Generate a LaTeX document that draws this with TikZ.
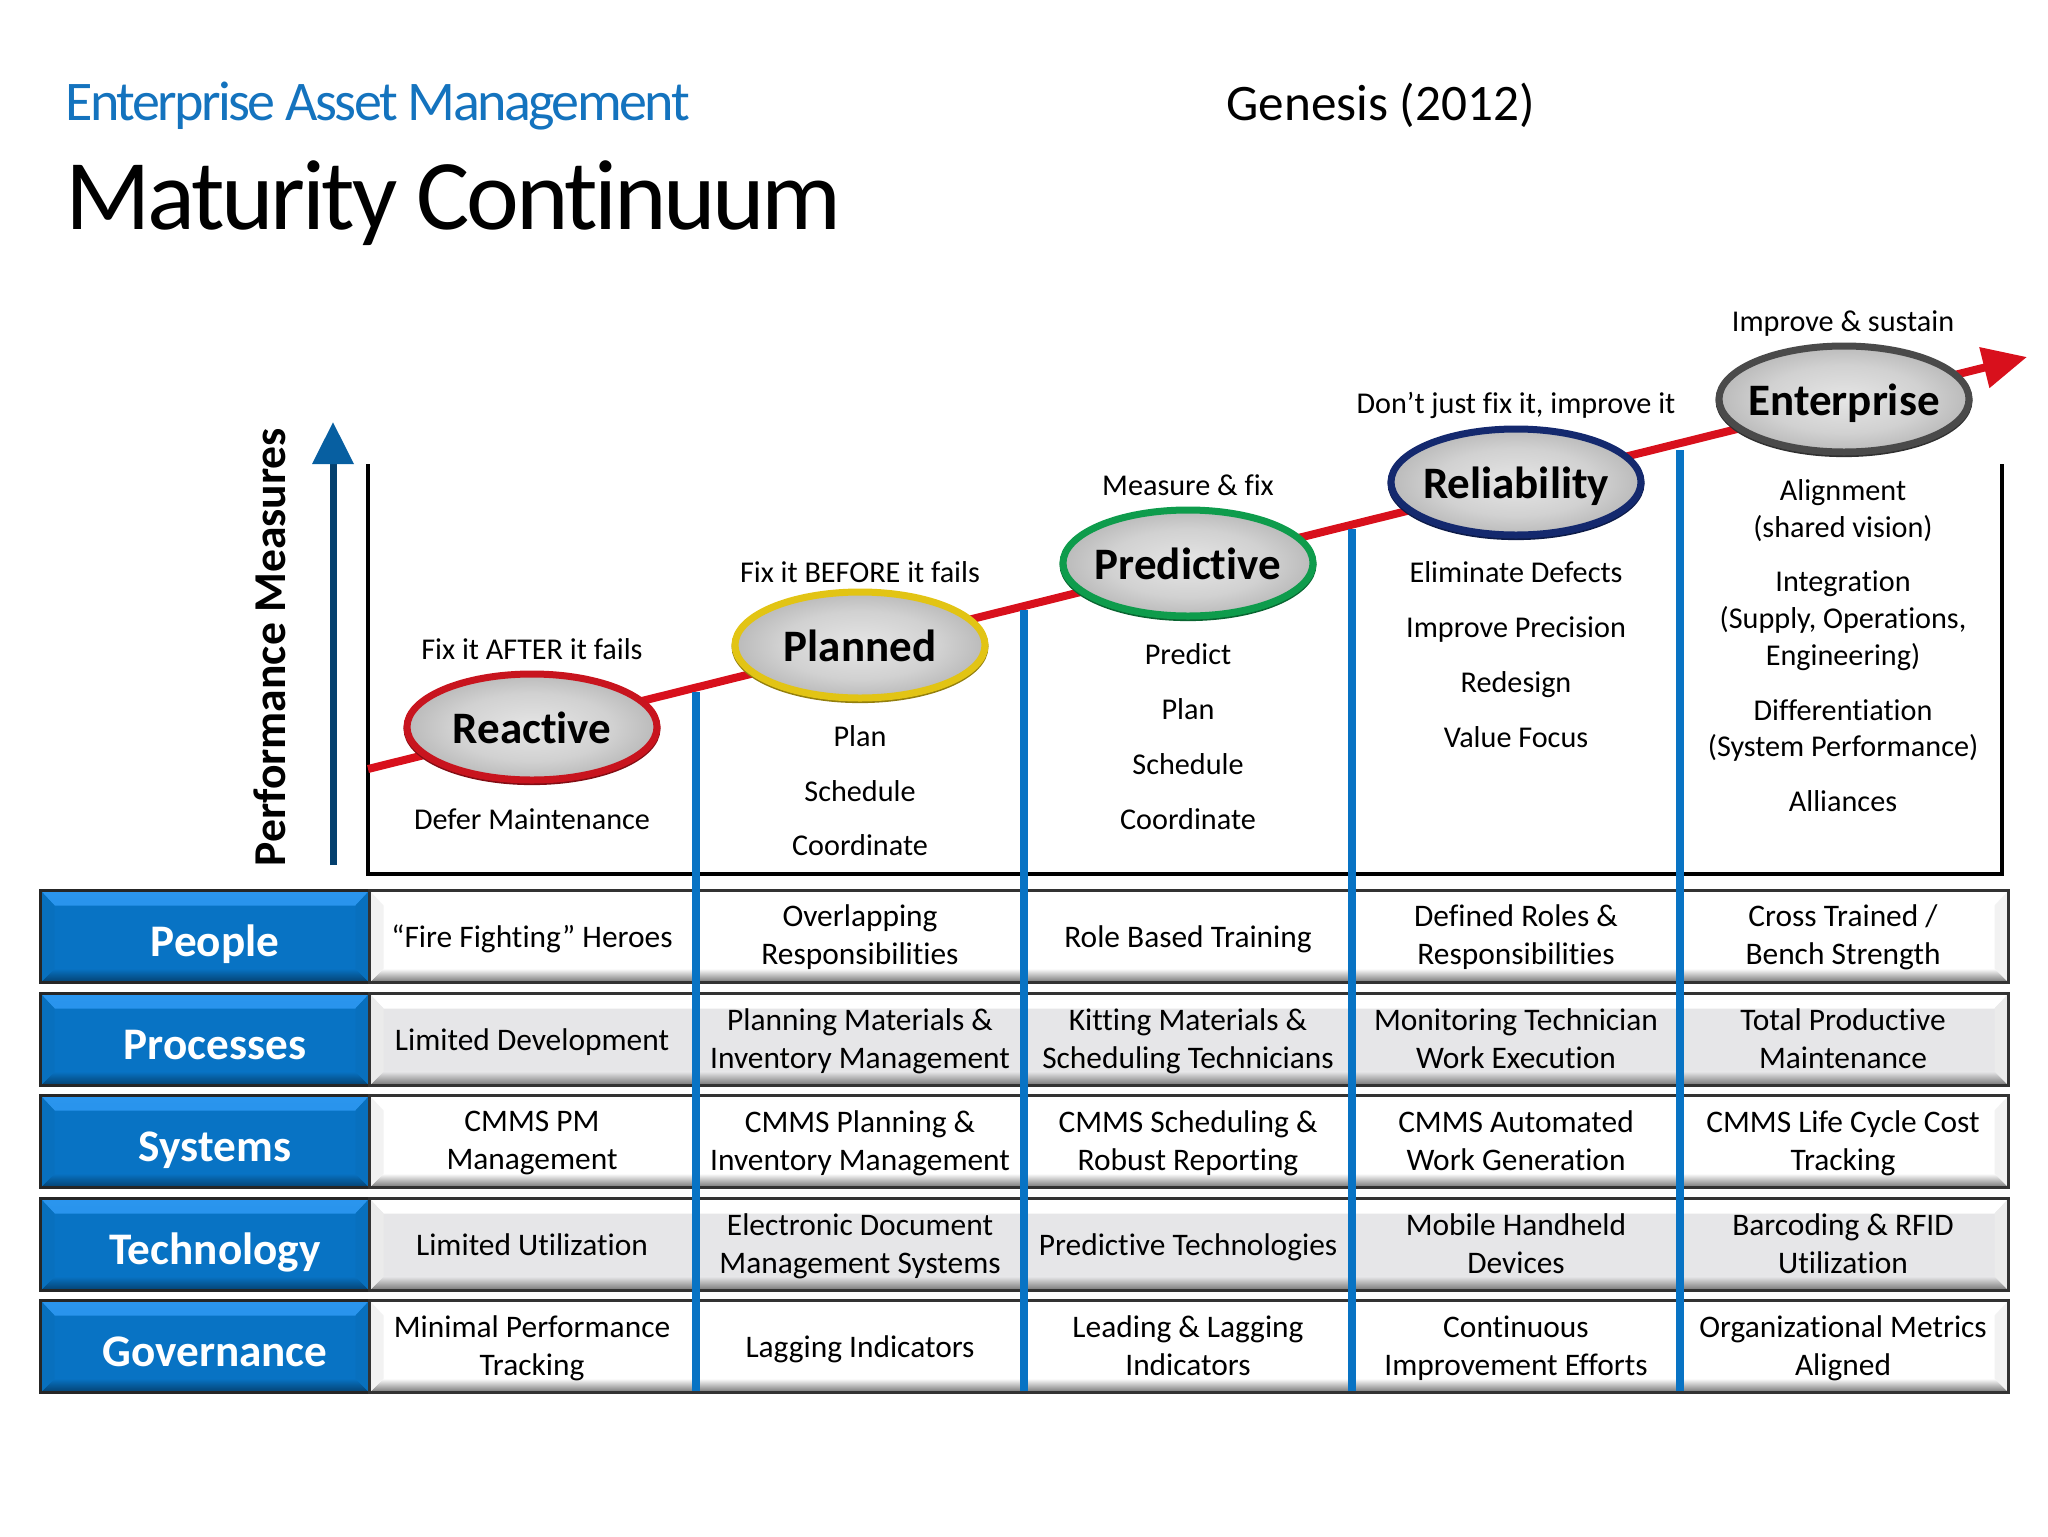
\documentclass[tikz,border=0pt]{standalone}
\usepackage{fontspec}
\setmainfont[Ligatures=NoCommon]{Carlito}
\newfontfamily\subtitlefont[Ligatures=NoCommon,LetterSpace=-4.6]{Carlito}
\newfontfamily\titlefont[Ligatures=NoCommon,LetterSpace=-3.3]{Carlito}
\usetikzlibrary{positioning,shapes,arrows.meta}

\definecolor{titleblue}{HTML}{1473BE}
\definecolor{barblue}{HTML}{0873C4}
\definecolor{barlight}{HTML}{2A95EE}
\definecolor{bardark}{HTML}{04406E}
\definecolor{barside}{HTML}{0870BE}
\definecolor{cellgray}{HTML}{E6E6E8}
\definecolor{arrowred}{HTML}{D8101C}
\definecolor{rimred}{HTML}{C8141E}
\definecolor{rimyellow}{HTML}{E2C414}
\definecolor{rimgreen}{HTML}{0E9C4C}
\definecolor{rimnavy}{HTML}{14296E}
\definecolor{rimgray}{HTML}{4A4A4A}

\pgfdeclareradialshading{stageshade}{\pgfpointorigin}{color(0bp)=(white!90!black); color(16bp)=(white!82!black); color(32bp)=(white!66!black); color(43bp)=(white!50!black); color(50bp)=(white!42!black)}

\newcommand{\bevelpaint}[5]{%
\shade[top color=#1,bottom color=#2] (path picture bounding box.north west) -- (path picture bounding box.north east) -- ++(-14,15) -- ([shift={(14,15)}]path picture bounding box.north west) -- cycle;
\shade[top color=#3,bottom color=#4] (path picture bounding box.south west) -- (path picture bounding box.south east) -- ++(-14,-14) -- ([shift={(14,-14)}]path picture bounding box.south west) -- cycle;
\fill[#5] (path picture bounding box.north west) -- ([shift={(14,15)}]path picture bounding box.north west) -- ([shift={(14,-14)}]path picture bounding box.south west) -- (path picture bounding box.south west) -- cycle;
\fill[#5] (path picture bounding box.north east) -- ([shift={(-14,15)}]path picture bounding box.north east) -- ([shift={(-14,-14)}]path picture bounding box.south east) -- (path picture bounding box.south east) -- cycle;
}

\tikzset{
x=0.5pt,y=-0.5pt,
rowhead/.style={draw=black!85,line width=1.5pt,fill=barblue,anchor=north west,minimum width=164.5pt,minimum height=46pt,inner sep=0pt,
path picture={\bevelpaint{barlight}{barlight!80!barblue}{barblue}{bardark}{barside}}},
whiteband/.style={draw=black!80,line width=1.5pt,fill=white,anchor=north west,minimum width=819.5pt,minimum height=46pt,inner sep=0pt,
path picture={\bevelpaint{white}{white}{white}{black!55}{white!95!black}}},
grayband/.style={draw=black!80,line width=1.5pt,fill=cellgray,anchor=north west,minimum width=819.5pt,minimum height=46pt,inner sep=0pt,
path picture={\bevelpaint{white}{white}{cellgray}{black!55}{white!92!black}}},
headtext/.style={font=\fontsize{22.6}{26}\selectfont\bfseries,text=white},
celltext/.style={font=\fontsize{15.7}{19}\selectfont,align=center,inner sep=0pt,execute at begin node=\strut,execute at end node=\strut},
listtext/.style={font=\fontsize{15.1}{18.3}\selectfont,align=center,inner sep=0pt,execute at begin node=\strut,execute at end node=\strut},
stage/.style={ellipse,draw=#1,line width=3.5pt,minimum width=125pt,minimum height=53pt,inner sep=0pt,shading=stageshade,
preaction={draw=#1!65!black,line width=3.5pt,transform canvas={yshift=-0.8pt}}},
stagetext/.style={font=\fontsize{22.5}{26}\selectfont\bfseries,inner sep=0pt,text height=14.5pt,text depth=0pt,yshift=-1.2pt},
divider/.style={draw=barblue,line width=3.6pt},
frameline/.style={draw=black,line width=2pt},
}

\begin{document}
\begin{tikzpicture}
\useasboundingbox (0,0) rectangle (2048,1536);
\node[anchor=base west,inner sep=0pt,text=titleblue,font=\fontsize{28}{32}\selectfont\subtitlefont] (subtitle) at (65,120) {Enterprise Asset Management};
\node[anchor=base west,inner sep=0pt,font=\fontsize{50}{56}\selectfont\titlefont] (title) at (65,229) {Maturity Continuum};
\node[anchor=base west,inner sep=0pt,font=\fontsize{25.6}{30}\selectfont] (genesis) at (1226,120) {Genesis (2012)};

\node[rotate=90,inner sep=0pt,font=\fontsize{22.8}{27}\selectfont\bfseries] (perf) at (270,647) {Performance Measures};
\coordinate (perfbase) at (333,865);
\coordinate (perftip) at (333,422);
\draw[line width=3.5pt,draw=bardark,-{Triangle[length=21pt,width=20pt,color=barside!85!black]}] (perfbase) -- (perftip);

\coordinate (frametl) at (368,464);
\coordinate (framebl) at (368,874);
\coordinate (framebr) at (2002,874);
\coordinate (frametr) at (2002,464);
\draw[frameline] (frametl) -- (framebl) -- (framebr) -- (frametr);

\node[rowhead] (peoplebox) at (39,889) {};
\node[rowhead] (processbox) at (39,992) {};
\node[rowhead] (systembox) at (39,1094) {};
\node[rowhead] (techbox) at (39,1197) {};
\node[rowhead] (govbox) at (39,1299) {};
\node[whiteband] (peopleband) at (368,889) {};
\node[grayband] (processband) at (368,992) {};
\node[whiteband] (systemband) at (368,1094) {};
\node[grayband] (techband) at (368,1197) {};
\node[whiteband] (govband) at (368,1299) {};

\node[headtext] (people) at (215,944) {People};
\node[headtext] (processes) at (215,1045) {Processes};
\node[headtext] (systems) at (215,1150) {Systems};
\node[headtext] (technology) at (215,1252) {Technology};
\node[headtext] (governance) at (215,1352) {Governance};

\coordinate (redstart) at (368,769);
\coordinate (redtip) at (2027,357);
\draw[line width=4pt,draw=arrowred,-{Triangle[length=22pt,width=20pt]}] (redstart) -- (redtip);

\coordinate (divatop) at (696,692);
\coordinate (divabot) at (696,1391);
\coordinate (divbtop) at (1024,610);
\coordinate (divbbot) at (1024,1391);
\coordinate (divctop) at (1352,529);
\coordinate (divcbot) at (1352,1391);
\coordinate (divdtop) at (1680,450);
\coordinate (divdbot) at (1680,1391);
\draw[divider] (divatop) -- (divabot);
\draw[divider] (divbtop) -- (divbbot);
\draw[divider] (divctop) -- (divcbot);
\draw[divider] (divdtop) -- (divdbot);

\node[stage=rimred] (reactive) at (532,727) {};
\node[stage=rimyellow] (planned) at (860,645) {};
\node[stage=rimgreen] (predictive) at (1188,563) {};
\node[stage=rimnavy] (reliability) at (1516,482) {};
\node[stage=rimgray] (enterprise) at (1844,399) {};
\node[stagetext] (reactivename) at (reactive) {Reactive};
\node[stagetext] (plannedname) at (planned) {Planned};
\node[stagetext] (predictivename) at (predictive) {Predictive};
\node[stagetext] (reliabilityname) at (reliability) {Reliability};
\node[stagetext] (enterprisename) at (enterprise) {Enterprise};

\node[listtext] (reactivenote) at (532,652) {Fix it AFTER it fails};
\node[listtext] (plannednote) at (860,575) {Fix it BEFORE it fails};
\node[listtext] (predictivenote) at (1188,488) {Measure \& fix};
\node[listtext] (reliabilitynote) at (1516,406) {Don’t just fix it, improve it};
\node[listtext] (enterprisenote) at (1843,324) {Improve \& sustain};

\node[listtext] (reactivelist) at (532,822) {Defer Maintenance};
\node[listtext] (plannedlist) at (860,796) {Plan\\[9.15pt]Schedule\\[9.15pt]Coordinate};
\node[listtext] (predictivelist) at (1188,742) {Predict\\[9.15pt]Plan\\[9.15pt]Schedule\\[9.15pt]Coordinate};
\node[listtext] (reliabilitylist) at (1516,660) {Eliminate Defects\\[9.15pt]Improve Precision\\[9.15pt]Redesign\\[9.15pt]Value Focus};
\node[listtext] (enterpriselist) at (1843,651) {Alignment\\(shared vision)\\[9.15pt]Integration\\(Supply, Operations,\\Engineering)\\[9.15pt]Differentiation\\(System Performance)\\[9.15pt]Alliances};

\node[celltext] (peoplea) at (532,940) {“Fire Fighting” Heroes};
\node[celltext] (peopleb) at (860,940) {Overlapping\\Responsibilities};
\node[celltext] (peoplec) at (1188,940) {Role Based Training};
\node[celltext] (peopled) at (1516,940) {Defined Roles \&\\Responsibilities};
\node[celltext] (peoplee) at (1843,940) {Cross Trained /\\Bench Strength};

\node[celltext] (processa) at (532,1043) {Limited Development};
\node[celltext] (processb) at (860,1044) {Planning Materials \&\\Inventory Management};
\node[celltext] (processc) at (1188,1044) {Kitting Materials \&\\Scheduling Technicians};
\node[celltext] (processd) at (1516,1044) {Monitoring Technician\\Work Execution};
\node[celltext] (processe) at (1843,1044) {Total Productive\\Maintenance};

\node[celltext] (systema) at (532,1146) {CMMS PM\\Management};
\node[celltext] (systemb) at (860,1146) {CMMS Planning \&\\Inventory Management};
\node[celltext] (systemc) at (1188,1146) {CMMS Scheduling \&\\Robust Reporting};
\node[celltext] (systemd) at (1516,1146) {CMMS Automated\\Work Generation};
\node[celltext] (systeme) at (1843,1146) {CMMS Life Cycle Cost\\Tracking};

\node[celltext] (techa) at (532,1248) {Limited Utilization};
\node[celltext] (techb) at (860,1249) {Electronic Document\\Management Systems};
\node[celltext] (techc) at (1188,1248) {Predictive Technologies};
\node[celltext] (techd) at (1516,1249) {Mobile Handheld\\Devices};
\node[celltext] (teche) at (1843,1249) {Barcoding \& RFID\\Utilization};

\node[celltext] (gova) at (532,1351) {Minimal Performance\\Tracking};
\node[celltext] (govb) at (860,1350) {Lagging Indicators};
\node[celltext] (govc) at (1188,1351) {Leading \& Lagging\\Indicators};
\node[celltext] (govd) at (1516,1351) {Continuous\\Improvement Efforts};
\node[celltext] (gove) at (1843,1351) {Organizational Metrics\\Aligned};
\end{tikzpicture}
\end{document}
